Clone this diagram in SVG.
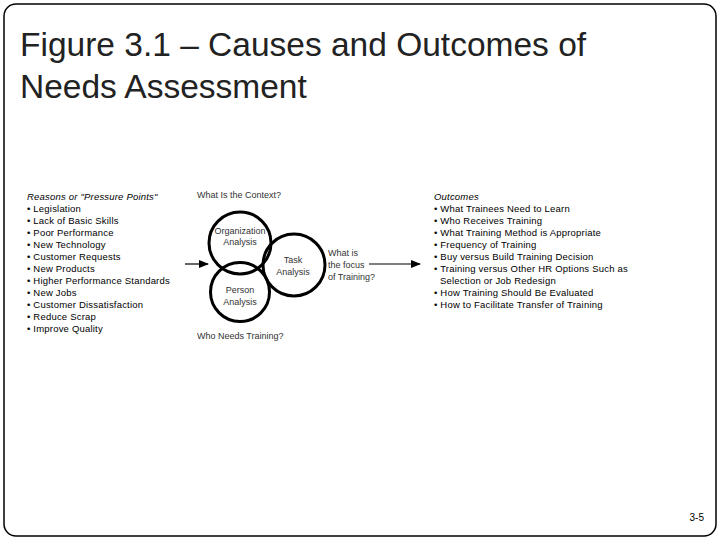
<svg xmlns="http://www.w3.org/2000/svg" width="720" height="540" viewBox="0 0 720 540">
<style>
.t{font-family:"Liberation Sans",Arial,sans-serif;font-size:9.5px;fill:#000;letter-spacing:0.2px}
.d{font-family:"Liberation Sans",Arial,sans-serif;font-size:9px;fill:#333}
.c{fill:none;stroke:#000;stroke-width:3}
.l{stroke:#000;stroke-width:1.2}
</style>
<defs><marker id="a" markerWidth="10" markerHeight="8" refX="9" refY="4" orient="auto" markerUnits="userSpaceOnUse"><path d="M0,0L10,4L0,8z" fill="#000"/></marker></defs>
<rect x="4" y="4" width="712" height="532" rx="12" fill="#fff" stroke="#000" stroke-width="1.5"/>
<g id="title" font-family="'Liberation Sans',Arial,sans-serif" font-size="33.5" fill="#222">
<text x="20" y="56">Figure 3.1 – Causes and Outcomes of</text>
<text x="20" y="98">Needs Assessment</text>
</g>
<g id="reasons" class="t">
<text x="27" y="200" font-style="italic">Reasons or "Pressure Points"</text>
<text x="27" y="212">• Legislation</text>
<text x="27" y="224">• Lack of Basic Skills</text>
<text x="27" y="236">• Poor Performance</text>
<text x="27" y="248">• New Technology</text>
<text x="27" y="260">• Customer Requests</text>
<text x="27" y="272">• New Products</text>
<text x="27" y="284">• Higher Performance Standards</text>
<text x="27" y="296">• New Jobs</text>
<text x="27" y="308">• Customer Dissatisfaction</text>
<text x="27" y="320">• Reduce Scrap</text>
<text x="27" y="332">• Improve Quality</text>
</g>
<g id="org"><circle class="c" cx="240" cy="243" r="31"/><text class="d" x="240" y="234" text-anchor="middle">Organization</text><text class="d" x="240" y="245" text-anchor="middle">Analysis</text></g>
<g id="person"><circle class="c" cx="240" cy="292" r="29.5"/><text class="d" x="240" y="293" text-anchor="middle">Person</text><text class="d" x="240" y="305" text-anchor="middle">Analysis</text></g>
<g id="task"><circle class="c" cx="294" cy="265" r="31"/><text class="d" x="293" y="263" text-anchor="middle">Task</text><text class="d" x="293" y="275" text-anchor="middle">Analysis</text></g>
<g id="labels" class="d">
<text x="197" y="198">What Is the Context?</text>
<text x="197" y="339">Who Needs Training?</text>
<text x="328" y="256">What is</text>
<text x="328" y="268">the focus</text>
<text x="328" y="280">of Training?</text>
</g>
<g id="connectors">
<line class="l" x1="185" y1="264" x2="208" y2="264" marker-end="url(#a)"/>
<line class="l" x1="369" y1="264" x2="420" y2="264" marker-end="url(#a)"/>
</g>
<g id="outcomes" class="t">
<text x="434" y="200" font-style="italic">Outcomes</text>
<text x="434" y="212">• What Trainees Need to Learn</text>
<text x="434" y="224">• Who Receives Training</text>
<text x="434" y="236">• What Training Method is Appropriate</text>
<text x="434" y="248">• Frequency of Training</text>
<text x="434" y="260">• Buy versus Build Training Decision</text>
<text x="434" y="272">• Training versus Other HR Options Such as</text>
<text x="440" y="284">Selection or Job Redesign</text>
<text x="434" y="296">• How Training Should Be Evaluated</text>
<text x="434" y="308">• How to Facilitate Transfer of Training</text>
</g>
<text x="704" y="521" text-anchor="end" font-family="'Liberation Sans',Arial,sans-serif" font-size="10">3-5</text>
</svg>
